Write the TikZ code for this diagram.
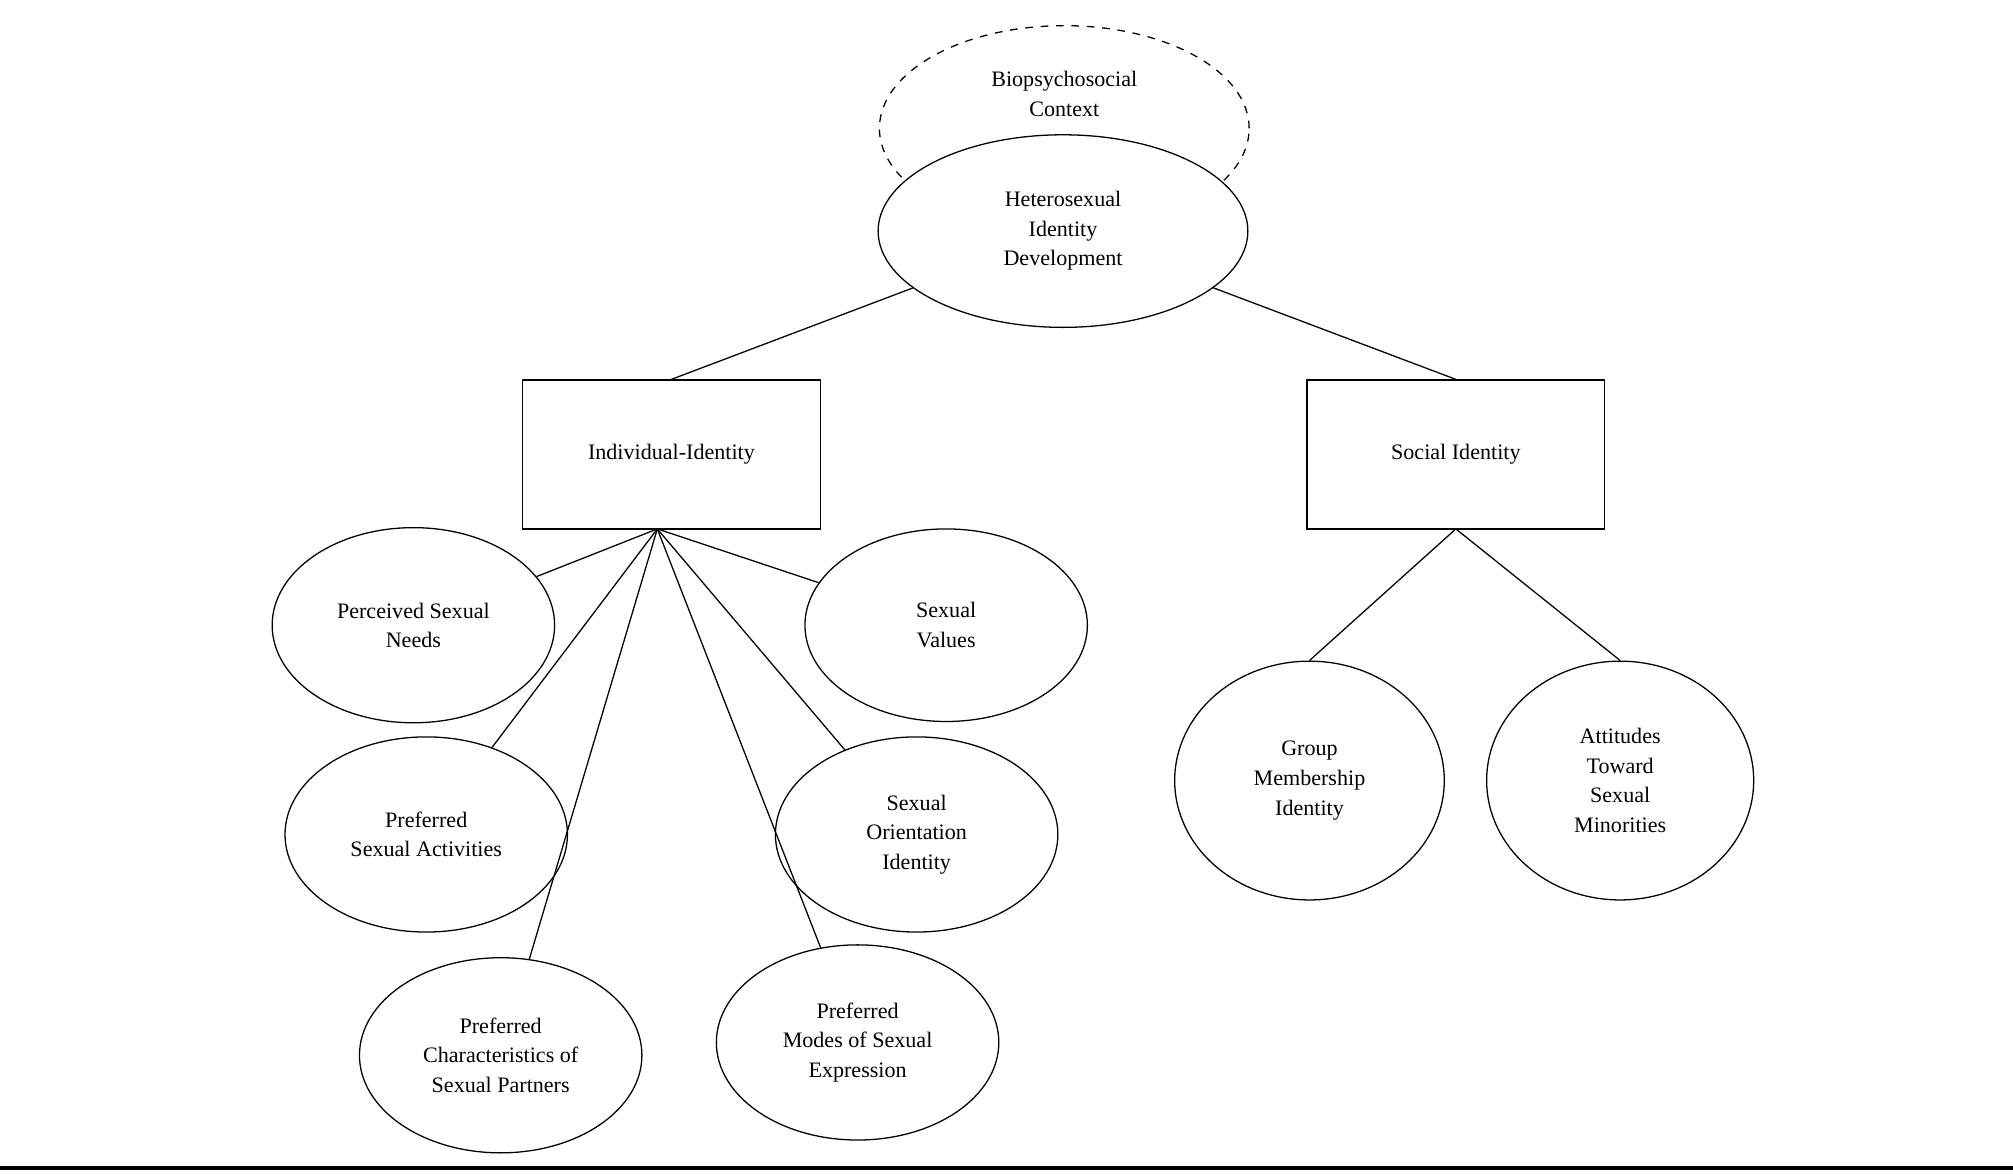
\documentclass[tikz,border=0pt]{standalone}
\usepackage{fontspec}
\setmainfont{Liberation Serif}
\usetikzlibrary{shapes.geometric}
\begin{document}
\begin{tikzpicture}[x=0.5pt,y=-0.5pt,
  every node/.style={font=\fontsize{8.6}{11.5}\selectfont,align=center,inner sep=0pt},
  ell/.style={draw,ellipse,fill=white,line width=0.5pt},
  box/.style={draw,rectangle,fill=white,line width=0.5pt,minimum width=116pt,minimum height=58pt},
  con/.style={line width=0.5pt}]
\useasboundingbox (0,0) rectangle (1568,914);
\fill[white] (0,0) rectangle (1568,914);
\node[ell,dashed,minimum width=144pt,minimum height=80pt] (bio) at (829,100) {};
\node at (829,73) {Biopsychosocial\\Context};
\node[ell,minimum width=144pt,minimum height=75pt] (het) at (828,180) {Heterosexual\\Identity\\Development};
\node[box] (ind) at (523,354) {Individual-Identity};
\node[box] (soc) at (1134,354) {Social Identity};
\draw[con] (het) -- (ind.north);
\draw[con] (het) -- (soc.north);
\coordinate (ia) at (512,412);
\coordinate (sa) at (1134,412);
\node[ell,minimum width=110pt,minimum height=76pt] (perc) at (322,487) {Perceived Sexual\\Needs};
\node[ell,minimum width=110pt,minimum height=75pt] (val) at (737,487) {Sexual\\Values};
\node[ell,minimum width=110pt,minimum height=76pt] (act) at (332,650) {Preferred\\Sexual Activities};
\node[ell,minimum width=110pt,minimum height=76pt] (ori) at (714,650) {Sexual\\Orientation\\Identity};
\node[ell,minimum width=110pt,minimum height=76pt] (cha) at (390,822) {Preferred\\Characteristics of\\Sexual Partners};
\node[ell,minimum width=110pt,minimum height=76pt] (mod) at (668,812) {Preferred\\Modes of Sexual\\Expression};
\node[ell,minimum width=105pt,minimum height=93pt] (grp) at (1020,608) {Group\\Membership\\Identity};
\node[ell,minimum width=104pt,minimum height=93pt] (att) at (1262,608) {Attitudes\\Toward\\Sexual\\Minorities};
\foreach \n in {perc,val,act,ori,cha,mod} \draw[con] (ia) -- (\n);
\draw[con] (sa) -- (grp.north);
\draw[con] (sa) -- (att.north);
\coordinate (l1) at (0,910);
\coordinate (l2) at (1568,910);
\draw[line width=1.6pt] (l1) -- (l2);
\end{tikzpicture}
\end{document}
